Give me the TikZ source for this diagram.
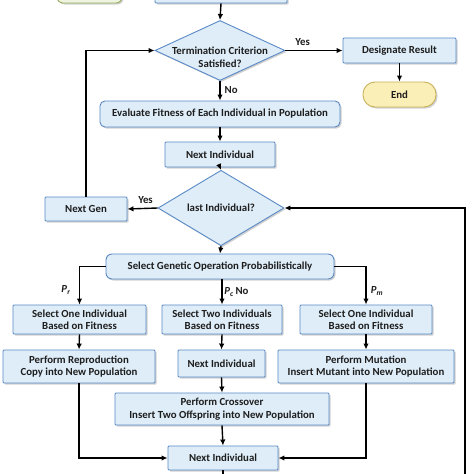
\documentclass[tikz,border=0pt]{standalone}
\usepackage{fontspec}
\setmainfont{Carlito}
\usetikzlibrary{shapes.geometric,arrows.meta,shadows}
\definecolor{boxfill}{HTML}{DEEDF8}
\definecolor{boxdraw}{HTML}{5A8AC6}
\definecolor{endfill}{HTML}{FBEFB8}
\definecolor{enddraw}{HTML}{C8B25A}
\definecolor{startfill}{HTML}{EEF4DF}
\definecolor{startdraw}{HTML}{94AE5E}
\definecolor{txt}{HTML}{1E1E1E}
\begin{document}
\begin{tikzpicture}[x=1pt,y=-1pt,
  base/.style={font=\fontsize{10.8}{12.5}\selectfont\bfseries, text=txt, align=center, inner sep=0pt},
  shad/.style={drop shadow={shadow xshift=1.5pt, shadow yshift=-1.5pt, opacity=0.3, fill=black!60}},
  proc/.style={base, shad, draw=boxdraw, fill=boxfill, line width=0.9pt, rounded corners=1pt},
  dec/.style={base, shad, diamond, draw=boxdraw, fill=boxfill, line width=0.9pt},
  conn/.style={line width=1.4pt, draw=black, -{Latex[length=6pt,width=5.5pt]}},
  plain/.style={line width=1.4pt, draw=black},
  lbl/.style={font=\fontsize{10.8}{12}\selectfont\bfseries, text=txt, inner sep=0pt}
]
\useasboundingbox (0,0) rectangle (474,474);
\fill[white] (0,0) rectangle (474,474);

% nodes
\node[base, shad, draw=startdraw, fill=startfill, line width=0.9pt, rounded corners=6pt,
      minimum width=65pt, minimum height=24pt] (start) at (89.5,-9) {};
\node[proc, minimum width=132pt, minimum height=26pt] (init) at (221,-10) {};
\node[dec, minimum width=130pt, minimum height=60pt] (term) at (220,50.5) {};
\node[base] (termtxt) at (220,57) {Termination Criterion\\Satisfied?};
\node[proc, minimum width=113pt, minimum height=25pt] (desig) at (399.5,50.5) {Designate Result};
\node[base, shad, draw=enddraw, fill=endfill, line width=0.9pt, rounded corners=12pt,
      minimum width=73pt, minimum height=25pt] (end) at (399.5,94.5) {End};
\node[proc, rounded corners=5pt, minimum width=240pt, minimum height=26pt] (eval) at (220,114) {Evaluate Fitness of Each Individual in Population};
\node[proc, minimum width=110pt, minimum height=25pt] (next1) at (220,154.5) {Next Individual};
\node[dec, minimum width=126pt, minimum height=48pt] (last) at (221,208) {last Individual?};
\node[proc, minimum width=82pt, minimum height=24pt] (nextgen) at (86,209) {Next Gen};
\node[proc, rounded corners=6pt, minimum width=228pt, minimum height=25pt] (select) at (220,266.5) {Select Genetic Operation Probabilistically};
\node[proc, minimum width=133pt, minimum height=29pt] (sel1) at (79.5,319.5) {Select One Individual\\Based on Fitness};
\node[proc, minimum width=120pt, minimum height=29pt] (sel2) at (222,319.5) {Select Two Individuals\\Based on Fitness};
\node[proc, minimum width=132pt, minimum height=29pt] (sel3) at (366,319.5) {Select One Individual\\Based on Fitness};
\node[proc, minimum width=152pt, minimum height=33pt] (repro) at (79,366.5) {Perform Reproduction\\Copy into New Population};
\node[proc, minimum width=87pt, minimum height=27pt] (next2) at (221.5,363.5) {Next Individual};
\node[proc, minimum width=176pt, minimum height=33pt] (mut) at (366,366.5) {Perform Mutation\\Insert Mutant into New Population};
\node[proc, minimum width=214pt, minimum height=32pt] (cross) at (222,409) {Perform Crossover\\Insert Two Offspring into New Population};
\node[proc, minimum width=110pt, minimum height=24pt] (next3) at (223,458) {Next Individual};

\coordinate (loopbot) at (465,480);
\coordinate (bot) at (223,480);

% connectors
\draw[conn] (init.south) -- (term.north);
\draw[conn] (term.east) -- node[lbl, above=4pt, pos=0.3] (yes1) {Yes} (desig.west);
\draw[conn] (desig.south) -- (end.north);
\draw[conn] (term.south) -- node[lbl, right=4pt, pos=0.45] (no1) {No} (eval.north);
\draw[conn] (eval.south) -- (next1.north);
\draw[conn] (next1.south) -- (last.north);
\draw[conn] (last.west) -- node[lbl, above=4pt, pos=0.4] (yes2) {Yes} (nextgen.east);
\draw[conn] (nextgen.north) -- (nextgen.north |- term.west) -- (term.west);
\draw[conn] (loopbot) -- (loopbot |- last.east) -- (last.east);
\draw[conn] (last.south) -- (select.north);
\draw[conn] (select.west) -| (sel1.north);
\draw[conn] (select.south -| sel2.north) -- (sel2.north);
\draw[conn] (select.east) -| (sel3.north);
\draw[conn] (sel1.south) -- (repro.north);
\draw[conn] (sel2.south) -- (next2.north);
\draw[conn] (sel3.south) -- (mut.north);
\draw[conn] (next2.south) -- (cross.north);
\draw[conn] (cross.south) -- (next3.north);
\draw[conn] (repro.south) |- (next3.west);
\draw[conn] (mut.south) |- (next3.east);
\draw[plain] (next3.south) -- (bot);

% branch labels
\node[lbl] (pr) at (66,290) {\textit{P}\textsubscript{\textit{r}}};
\node[lbl] (pc) at (229,292) {\textit{P}\textsubscript{\textit{c}}};
\node[lbl] (no2) at (242,291) {No};
\node[lbl] (pm) at (377,291) {\textit{P}\textsubscript{\textit{m}}};
\end{tikzpicture}
\end{document}
